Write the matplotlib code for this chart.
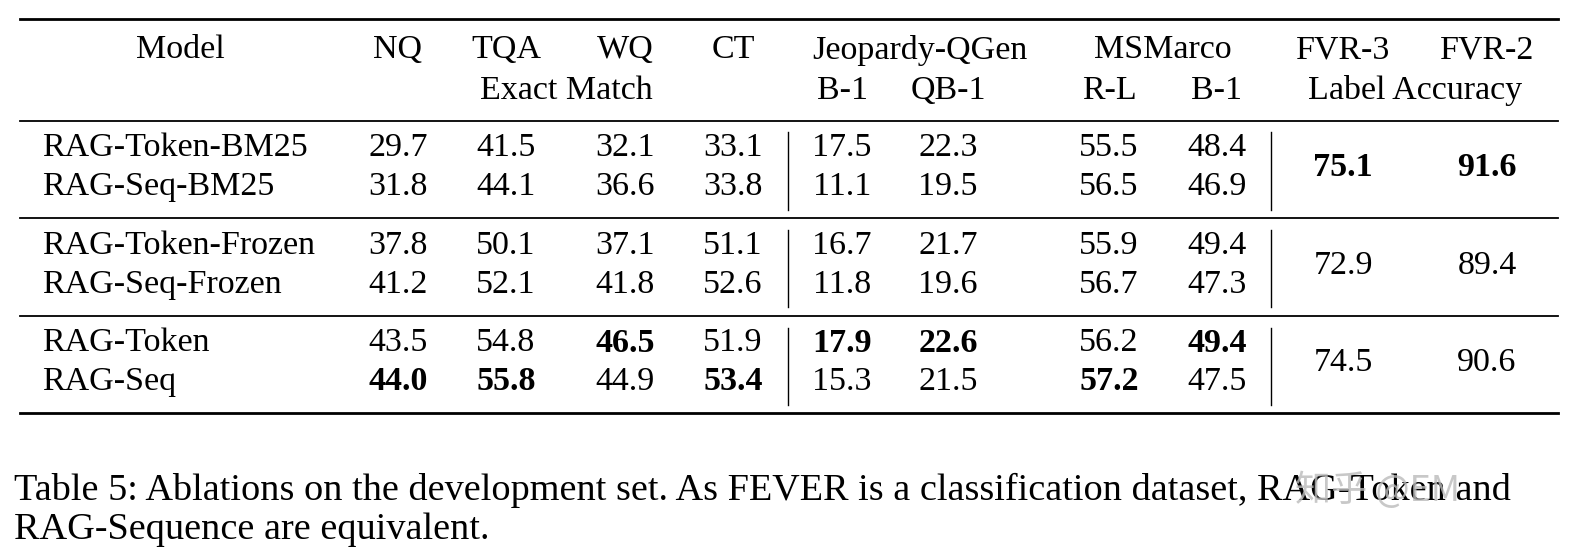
import matplotlib
matplotlib.use("Agg")
from matplotlib import pyplot as plt

# table data
models = ["RAG-Token-BM25", "RAG-Seq-BM25", "RAG-Token-Frozen", "RAG-Seq-Frozen",
          "RAG-Token", "RAG-Seq"]
cols = ["NQ", "TQA", "WQ", "CT", "B-1", "QB-1", "R-L", "B-1"]
values = [
    ["29.7", "41.5", "32.1", "33.1", "17.5", "22.3", "55.5", "48.4"],
    ["31.8", "44.1", "36.6", "33.8", "11.1", "19.5", "56.5", "46.9"],
    ["37.8", "50.1", "37.1", "51.1", "16.7", "21.7", "55.9", "49.4"],
    ["41.2", "52.1", "41.8", "52.6", "11.8", "19.6", "56.7", "47.3"],
    ["43.5", "54.8", "46.5", "51.9", "17.9", "22.6", "56.2", "49.4"],
    ["44.0", "55.8", "44.9", "53.4", "15.3", "21.5", "57.2", "47.5"],
]
bold = [
    [0] * 8, [0] * 8, [0] * 8, [0] * 8,
    [0, 0, 1, 0, 1, 1, 0, 1],
    [1, 1, 0, 1, 0, 0, 1, 0],
]
fvr3 = ["75.1", "72.9", "74.5"]
fvr2 = ["91.6", "89.4", "90.6"]
fvr_bold = [1, 0, 0]
caption = ["Table 5: Ablations on the development set. As FEVER is a classification dataset, RAG-Token and",
           "RAG-Sequence are equivalent."]

plt.rcParams['font.family'] = ['Liberation Serif', 'DejaVu Serif']
fig = plt.figure(figsize=(15.69, 5.58), dpi=100)
ax = fig.add_axes([0, 0, 1, 1])
ax.set_xlim(0, 1569)
ax.set_ylim(558, 0)
ax.axis("off")
fs = 24.5

col_x = [398, 506, 625, 733, 842, 948, 1109, 1217]
row_y = [148, 187, 246, 285, 343, 382]

def t(x, y, s, ha="center", w="normal", size=fs, **kw):
    ax.text(x, y, s, ha=ha, va="center", fontsize=size, fontweight=w, **kw)

# header
t(180, 50, "Model")
for x, s in zip([398, 506, 625, 733], cols[:4]):
    t(x, 50, s)
t(920, 50, "Jeopardy-QGen")
t(1163, 50, "MSMarco")
t(1343, 50, "FVR-3")
t(1487, 50, "FVR-2")
t(566, 91, "Exact Match")
for x, s in zip(col_x[4:], cols[4:]):
    t(x, 91, s)
t(1415, 91, "Label Accuracy")

# rules
ax.plot([20, 1558], [19, 19], color="black", lw=2)
for y in [121, 218, 316]:
    ax.plot([20, 1558], [y, y], color="black", lw=1.3)
ax.plot([20, 1558], [413, 413], color="black", lw=2)
for y0, y1 in [(132, 210), (230, 307), (328, 405)]:
    for x in [788, 1271]:
        ax.plot([x, x], [y0, y1], color="black", lw=1)

# body
for i, m in enumerate(models):
    t(42, row_y[i], m, ha="left")
    for j, v in enumerate(values[i]):
        t(col_x[j], row_y[i], v, w="bold" if bold[i][j] else "normal")
for k in range(3):
    y = (row_y[2 * k] + row_y[2 * k + 1]) / 2
    w = "bold" if fvr_bold[k] else "normal"
    t(1343, y, fvr3[k], w=w)
    t(1487, y, fvr2[k], w=w)

# caption
t(14, 490, caption[0], ha="left", size=27.5)
t(14, 530, caption[1], ha="left", size=27.5)
ax.text(1295, 490, "知乎 @EM", ha="left", va="center", fontsize=26,
        color="#bbbbbb", alpha=0.8, family=["Noto Sans CJK SC", "DejaVu Sans"])

fig.savefig("out.png", dpi=100)
